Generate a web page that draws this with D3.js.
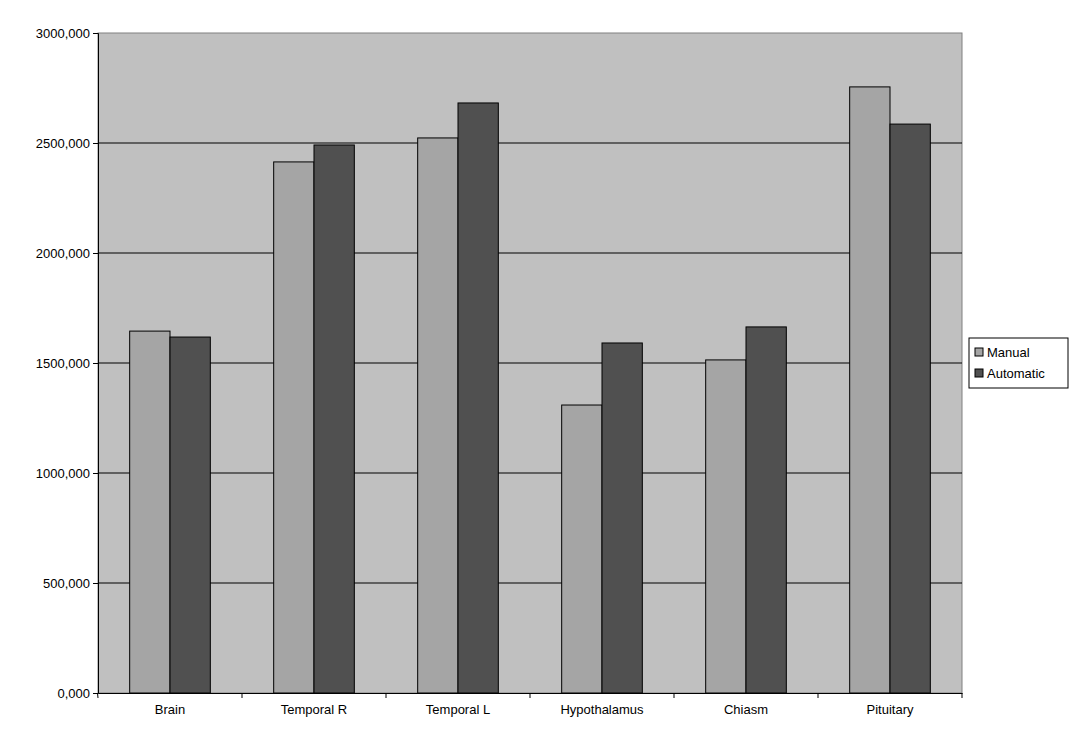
<!DOCTYPE html>
<html><head><meta charset="utf-8">
<script src="https://cdn.jsdelivr.net/npm/d3@7"></script>
<style>body{margin:0;background:#fff}text{font-family:"Liberation Sans",Arial,sans-serif}</style>
</head><body>
<script>
const categories = ["Brain", "Temporal R", "Temporal L", "Hypothalamus", "Chiasm", "Pituitary"];
const seriesNames = ["Manual", "Automatic"];
const manual = [1645, 2414, 2523, 1309, 1514, 2755];
const automatic = [1618, 2491, 2682, 1591, 1664, 2586];
const yTicks = [0, 500, 1000, 1500, 2000, 2500, 3000];
const colors = ["#a5a5a5", "#505050"];

const W = 1082, H = 752;
const m = {left: 98, right: 120, top: 33, bottom: 59};
const svg = d3.select("body").append("svg").attr("width", W).attr("height", H);
const x = d3.scaleBand().domain(categories).range([m.left, W - m.right]).paddingInner(0.44).paddingOuter(0.22);
const xs = d3.scaleBand().domain(seriesNames).range([0, x.bandwidth()]);
const y = d3.scaleLinear().domain([0, 3000]).range([H - m.bottom, m.top]);

svg.append("rect").attr("x", m.left).attr("y", m.top)
  .attr("width", W - m.right - m.left).attr("height", H - m.bottom - m.top)
  .attr("fill", "#c0c0c0").attr("stroke", "#808080");

svg.append("g").selectAll("line").data(yTicks.slice(1, -1)).join("line")
  .attr("x1", m.left).attr("x2", W - m.right)
  .attr("y1", d => y(d)).attr("y2", d => y(d)).attr("stroke", "#000");

const yAxis = svg.append("g").attr("transform", `translate(${m.left},0)`)
  .call(d3.axisLeft(y).tickValues(yTicks).tickSize(5).tickFormat(d => d + ",000"));
const xAxis = svg.append("g").attr("transform", `translate(0,${H - m.bottom})`)
  .call(d3.axisBottom(x).tickSize(0).tickPadding(12));
xAxis.selectAll(".tick").append("line").attr("x1", x.step() / 2).attr("x2", x.step() / 2).attr("y2", 5).attr("stroke", "#000");
svg.append("line").attr("x1", m.left - 0.5 + x.step() * 0 ).attr("x2", m.left).attr("y1", H - m.bottom).attr("y2", H - m.bottom + 5).attr("stroke", "#000");
[yAxis, xAxis].forEach(a => { a.selectAll("text").attr("font-size", 13).attr("fill", "#000"); a.select(".domain").attr("stroke", "#000"); });

const rows = categories.map((c, i) => ({c, v: [manual[i], automatic[i]]}));
svg.append("g").selectAll("g").data(rows).join("g")
  .attr("transform", d => `translate(${x(d.c)},0)`)
  .selectAll("rect").data(d => d.v.map((v, j) => ({v, s: seriesNames[j], j}))).join("rect")
  .attr("x", d => xs(d.s)).attr("width", xs.bandwidth())
  .attr("y", d => y(d.v)).attr("height", d => y(0) - y(d.v))
  .attr("fill", d => colors[d.j]).attr("stroke", "#000");

const lg = svg.append("g").attr("transform", "translate(969,338)");
lg.append("rect").attr("width", 99).attr("height", 50).attr("fill", "#fff").attr("stroke", "#000");
seriesNames.forEach((s, i) => {
  lg.append("rect").attr("x", 6).attr("y", 10 + i * 21).attr("width", 8).attr("height", 8)
    .attr("fill", colors[i]).attr("stroke", "#000");
  lg.append("text").attr("x", 18).attr("y", 19 + i * 21).attr("font-size", 13).text(s);
});
</script>
</body></html>
